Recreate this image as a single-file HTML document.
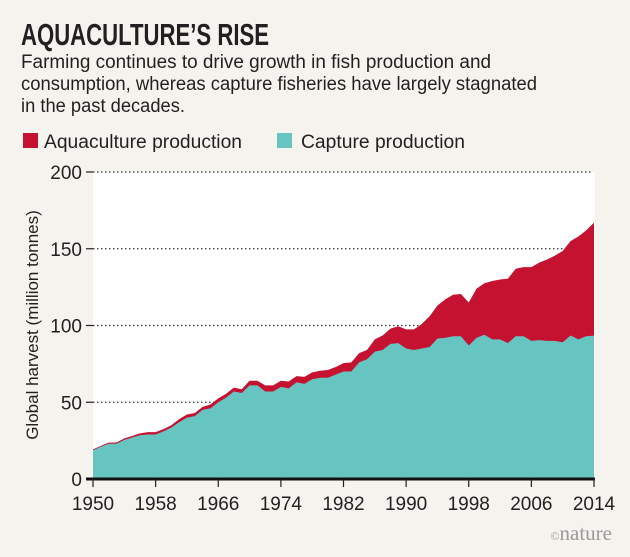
<!DOCTYPE html>
<html><head><meta charset="utf-8"><style>
html,body{margin:0;padding:0;background:#f4f3ee;}
svg{display:block;font-family:"Liberation Sans",sans-serif;}
</style></head><body>
<svg width="630" height="557" viewBox="0 0 630 557">
<rect x="0" y="0" width="630" height="557" fill="#f4f3ee"/>
<text x="21" y="45" font-size="31" font-weight="bold" fill="#231f20" textLength="248" lengthAdjust="spacingAndGlyphs">AQUACULTURE’S RISE</text>
<g font-size="19" fill="#231f20">
<text x="21" y="68" textLength="470" lengthAdjust="spacingAndGlyphs">Farming continues to drive growth in fish production and</text>
<text x="21" y="90" textLength="516" lengthAdjust="spacingAndGlyphs">consumption, whereas capture fisheries have largely stagnated</text>
<text x="21" y="112" textLength="164" lengthAdjust="spacingAndGlyphs">in the past decades.</text>
</g>
<g>
<rect x="23" y="133" width="15" height="15" fill="#c41230"/>
<text x="44" y="148" font-size="19" fill="#231f20" textLength="198" lengthAdjust="spacingAndGlyphs">Aquaculture production</text>
<rect x="277" y="133" width="15" height="15" fill="#66c5c1"/>
<text x="301" y="148" font-size="19" fill="#231f20" textLength="164" lengthAdjust="spacingAndGlyphs">Capture production</text>
</g>
<rect x="93" y="172" width="502" height="307" fill="#ffffff"/>
<g id="grid"></g>
<g id="areas"></g>
<g id="axes"></g>
<text transform="translate(38,325) rotate(-90)" text-anchor="middle" font-size="17" fill="#231f20">Global harvest (million tonnes)</text>
<text x="612" y="540" text-anchor="end" font-family="Liberation Serif,serif" font-size="21" fill="#9a9a9a"><tspan font-size="12">©</tspan>nature</text>
</svg>
<script>
const years=[];for(let y=1950;y<=2014;y++)years.push(y);
const capture=[18.7,21,23,23,25.5,27,28.5,29,29,31,33.5,37,40,41,45,46,50,53,57,56,61,61,57,57,60,59,63,62,65,66,66,68,70,70,76,78,83,84,88,88.5,85,84,85,86,91.5,92,93,93,87,92,94,91,91,88.5,93,93,90,90.5,90,90,89,93.5,91,93,93.4];
const total=[19.3,21.6,23.7,23.8,26.5,28,29.7,30.5,30.5,32.5,35,39,42,43,47,48.5,52.5,55.5,59.5,58.5,64,64,61,61,64,63.5,67,66.5,69.5,70.5,71,73,75.5,76,82,84,91,93.5,98,99.5,97.5,97.5,101,106,113,117,120,120.5,115,124,127.5,129,130,130.5,137,138,138,141,143,145.5,148.5,155,158,162,167];
const yTicks=[0,50,100,150,200];
const xTicks=[1950,1958,1966,1974,1982,1990,1998,2006,2014];
const NS="http://www.w3.org/2000/svg";
const X=y=>93+(y-1950)*(501/64);
const Y=v=>479-v*1.535;
function mk(tag,attrs,parent){const e=document.createElementNS(NS,tag);for(const k in attrs)e.setAttribute(k,attrs[k]);parent.appendChild(e);return e;}
const grid=document.getElementById('grid'),areas=document.getElementById('areas'),axes=document.getElementById('axes');
yTicks.forEach(t=>{
 if(t>0){const l=mk('line',{x1:93,x2:592,y1:Y(t),y2:Y(t),stroke:'#333','stroke-width':1.2,'stroke-dasharray':'1.5,2.5'},grid);
 
 }
 const tk=mk('line',{x1:86,x2:93,y1:Y(t),y2:Y(t),stroke:'#231f20','stroke-width':1.2},axes);
 
 
 const tx=mk('text',{x:82,y:Y(t)+7,'text-anchor':'end','font-size':19,fill:'#231f20'},axes);tx.textContent=t;
 
 
});
let topPath='',capPath='';
years.forEach((y,i)=>{topPath+=(i?'L':'M')+X(y)+','+Y(total[i]);capPath+=(i?'L':'M')+X(y)+','+Y(capture[i]);});
const aq=mk('path',{d:topPath+'L'+X(2014)+','+Y(0)+'L'+X(1950)+','+Y(0)+'Z',fill:'#c41230'},areas);


const ca=mk('path',{d:capPath+'L'+X(2014)+','+Y(0)+'L'+X(1950)+','+Y(0)+'Z',fill:'#66c5c1'},areas);


const base=mk('line',{x1:86,x2:595,y1:Y(0),y2:Y(0),stroke:'#111','stroke-width':3},axes);


xTicks.forEach(t=>{
 const tk=mk('line',{x1:X(t),x2:X(t),y1:Y(0),y2:Y(0)+8,stroke:'#231f20','stroke-width':1.2},axes);
 
 
 const tx=mk('text',{x:X(t),y:510,'text-anchor':'middle','font-size':19,fill:'#231f20'},axes);tx.textContent=t;
 
 
});
</script>
</body></html>
